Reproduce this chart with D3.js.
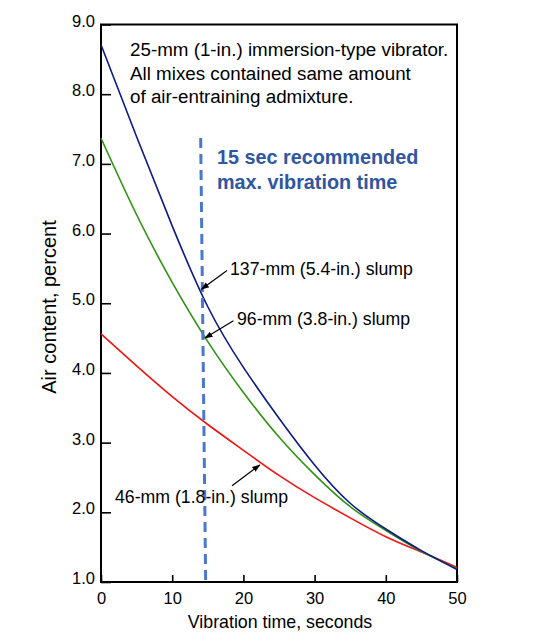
<!DOCTYPE html>
<html lang="en">
<head>
<meta charset="UTF-8">
<title>Air content vs vibration time</title>
<script src="https://d3js.org/d3.v7.min.js"></script>
<style>
  body { margin: 0; background: #fff; font-family: "Liberation Sans", Arial, sans-serif; }
  svg text { font-family: "Liberation Sans", Arial, sans-serif; }
</style>
</head>
<body>
<svg width="553" height="644"></svg>
<script>
// vibration time (s)
const times = [0, 5, 10, 15, 20, 25, 30, 35, 40, 45, 50];
// air content, percent
const slump137 = [8.71, 7.39, 6.11, 4.95, 4.08, 3.35, 2.68, 2.13, 1.76, 1.45, 1.18];
const slump96  = [7.37, 6.27, 5.30, 4.45, 3.72, 3.08, 2.54, 2.08, 1.74, 1.44, 1.19];
const slump46  = [4.56, 4.10, 3.66, 3.26, 2.89, 2.53, 2.21, 1.92, 1.65, 1.43, 1.21];

const xTicks = [0, 10, 20, 30, 40, 50];
const yTicks = [1, 2, 3, 4, 5, 6, 7, 8, 9];

// recommended max vibration line (slightly slanted as in the source)
const limitTime = [14.0, 14.7];
const limitAir = [7.37, 1.0];

const svg = d3.select("svg");
const margin = { top: 24.5, right: 96, bottom: 62, left: 101 };
const width = 553 - margin.left - margin.right,
      height = 644 - margin.top - margin.bottom;

const g = svg.append("g").attr("transform", `translate(${margin.left},${margin.top})`);

const x = d3.scaleLinear().domain([0, 50]).range([0, width]);
const y = d3.scaleLinear().domain([1, 9]).range([height, 0]);

// ticks point inward
g.append("g")
  .attr("transform", `translate(0,${height})`)
  .call(d3.axisBottom(x).tickValues(xTicks).tickSizeInner(-7).tickSizeOuter(0).tickPadding(10))
  .call(a => a.select(".domain").remove())
  .call(a => a.selectAll("text").attr("font-size", 16.5).attr("fill", "#000"))
  .call(a => a.selectAll("line").attr("stroke-width", 1.6));

g.append("g")
  .call(d3.axisLeft(y).tickValues(yTicks).tickFormat(d3.format(".1f")).tickSizeInner(-10).tickSizeOuter(0).tickPadding(6))
  .call(a => a.select(".domain").remove())
  .call(a => a.selectAll("text").attr("font-size", 16.5).attr("fill", "#000").attr("dy", "0.1em"))
  .call(a => a.selectAll("line").attr("stroke-width", 1.6));

// frame
g.append("rect")
  .attr("width", width).attr("height", height)
  .attr("fill", "none").attr("stroke", "#000").attr("stroke-width", 2);

const line = d3.line()
  .x(d => x(d[0]))
  .y(d => y(d[1]))
  .curve(d3.curveNatural);

const series = [
  { vals: slump46, color: "#f01414" },
  { vals: slump96, color: "#2e9414" },
  { vals: slump137, color: "#0c1a86" }
];

series.forEach(s => {
  g.append("path")
    .datum(times.map((t, i) => [t, s.vals[i]]))
    .attr("fill", "none")
    .attr("stroke", s.color)
    .attr("stroke-width", 1.6)
    .attr("d", line);
});

// 15 sec dashed line
g.append("line")
  .attr("x1", x(limitTime[0])).attr("y1", y(limitAir[0]))
  .attr("x2", x(limitTime[1])).attr("y2", y(limitAir[1]))
  .attr("stroke", "#4a78cc")
  .attr("stroke-width", 3)
  .attr("stroke-dasharray", "10,6");

// arrow marker
svg.append("defs").append("marker")
  .attr("id", "arr")
  .attr("viewBox", "0 0 10 10")
  .attr("refX", 9).attr("refY", 5)
  .attr("markerWidth", 7).attr("markerHeight", 7)
  .attr("orient", "auto")
  .append("path").attr("d", "M0,1.5 L10,5 L0,8.5 Z").attr("fill", "#000");

// labels with arrows: [text, text x, text y, arrow from (t, v), arrow to (t, v)]
const labels = [
  ["137-mm (5.4-in.) slump", 230, 275, [17.7, 5.47], [14.1, 5.2]],
  ["96-mm (3.8-in.) slump", 237, 325, [18.6, 4.75], [14.6, 4.50]],
  ["46-mm (1.8-in.) slump", 115, 503, [18.4, 2.38], [22.3, 2.68]]
];

labels.forEach(l => {
  svg.append("text")
    .attr("x", l[1]).attr("y", l[2])
    .attr("font-size", 17.7)
    .text(l[0]);
  g.append("line")
    .attr("x1", x(l[3][0])).attr("y1", y(l[3][1]))
    .attr("x2", x(l[4][0])).attr("y2", y(l[4][1]))
    .attr("stroke", "#000").attr("stroke-width", 1.2)
    .attr("marker-end", "url(#arr)");
});

// note
const note = ["25-mm (1-in.) immersion-type vibrator.", "All mixes contained same amount", "of air-entraining admixture."];
svg.append("text")
  .attr("x", 130).attr("y", 56)
  .attr("font-size", 18.8)
  .selectAll("tspan").data(note).join("tspan")
  .attr("x", 130).attr("dy", (d, i) => i ? 23.5 : 0)
  .text(d => d);

// recommendation text
const rec = ["15 sec recommended", "max. vibration time"];
svg.append("text")
  .attr("x", 217).attr("y", 164)
  .attr("font-size", 19.8).attr("font-weight", "bold").attr("fill", "#2f56a0")
  .selectAll("tspan").data(rec).join("tspan")
  .attr("x", 217).attr("dy", (d, i) => i ? 24.5 : 0)
  .text(d => d);

// axis titles
svg.append("text")
  .attr("x", 280).attr("y", 628)
  .attr("text-anchor", "middle").attr("font-size", 17.8)
  .text("Vibration time, seconds");

svg.append("text")
  .attr("transform", "translate(56,307) rotate(-90)")
  .attr("text-anchor", "middle").attr("font-size", 20)
  .text("Air content, percent");
</script>
</body>
</html>
